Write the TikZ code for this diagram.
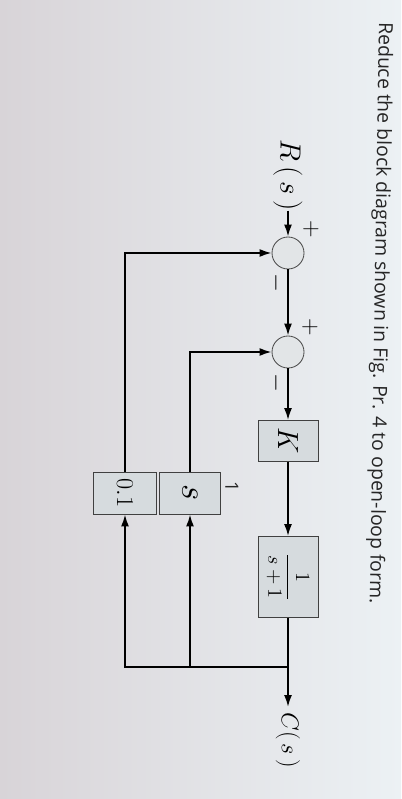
\documentclass[tikz,border=0pt]{standalone}
\usepackage{fontspec}
\newfontfamily\notefont{Open Sans}
\usetikzlibrary{arrows.meta}

\definecolor{paperleft}{RGB}{216,212,216}
\definecolor{paperright}{RGB}{236,241,244}
\definecolor{blockfill}{RGB}{214,219,222}
\definecolor{sumfill}{RGB}{226,229,231}

\tikzset{
  blk/.style={draw=black!75, fill=blockfill, rotate=-90, inner sep=0pt, line width=0.6pt},
  sumnode/.style={draw=black!70, fill=sumfill, circle, minimum size=0.8cm, inner sep=0pt, line width=0.6pt},
  sig/.style={-{Latex[length=3mm,width=2mm]}, line width=1.3pt},
  lbl/.style={rotate=-90, inner sep=0pt},
}

\begin{document}
\begin{tikzpicture}[x=0.025cm, y=-0.025cm]
    \shade[left color=paperleft, right color=paperright] (0,0) rectangle (401,799);
    \useasboundingbox (0,0) rectangle (401,799);

    % text on the page
    \node[lbl, rotate=-0.9, anchor=base west, text=black!85] (title) at (379,22)
        {\notefont\fontsize{13.8}{16}\selectfont Reduce the block diagram shown in Fig. Pr. 4 to open-loop form.};
    \node[lbl, text=black!85] (pagenum) at (232,487) {\notefont\fontsize{13}{15}\selectfont 1};

    % forward path
    \node[lbl] (R) at (288,175) {\fontsize{20}{24}\selectfont $R\,(\,s\,)$};
    \node[sumnode] (sumA) at (288,253) {};
    \node[sumnode] (sumB) at (288,352) {};
    \node[blk, minimum width=1.025cm, minimum height=1.5cm] (gainK) at (288,441)
        {\fontsize{21}{24}\selectfont $K$};
    \node[blk, minimum width=2.025cm, minimum height=1.5cm] (plant) at (288,577)
        {\fontsize{14}{17}\selectfont $\displaystyle\frac{1}{s+1}$};
    \coordinate (junc) at (288,667);
    \coordinate (out) at (288,707);
    \node[lbl] (C) at (288,740) {\fontsize{17}{20}\selectfont $C(\,s\,)$};

    % feedback blocks
    \node[blk, minimum width=1.05cm, minimum height=1.575cm] (fbA) at (125,493)
        {\fontsize{19}{22}\selectfont $0.1$};
    \node[blk, minimum width=1.05cm, minimum height=1.525cm] (fbB) at (190,493)
        {\fontsize{23}{26}\selectfont $s$};

    % signs
    \node[lbl] (pA) at (311,229) {\fontsize{16}{18}\selectfont $+$};
    \node[lbl] (mA) at (276,283) {\fontsize{16}{18}\selectfont $-$};
    \node[lbl] (pB) at (310,327) {\fontsize{16}{18}\selectfont $+$};
    \node[lbl] (mB) at (276,383) {\fontsize{16}{18}\selectfont $-$};

    \draw[sig] (R) -- (sumA);
    \draw[sig] (sumA) -- (sumB);
    \draw[sig] (sumB) -- (gainK);
    \draw[sig] (gainK) -- (plant);
    \draw[sig] (plant) -- (out);

    \draw[sig] (junc) -| (fbA.east);
    \draw[sig] (fbB.east |- junc) -- (fbB.east);
    \draw[sig] (fbA.west) |- (sumA);
    \draw[sig] (fbB.west) |- (sumB);
\end{tikzpicture}
\end{document}
